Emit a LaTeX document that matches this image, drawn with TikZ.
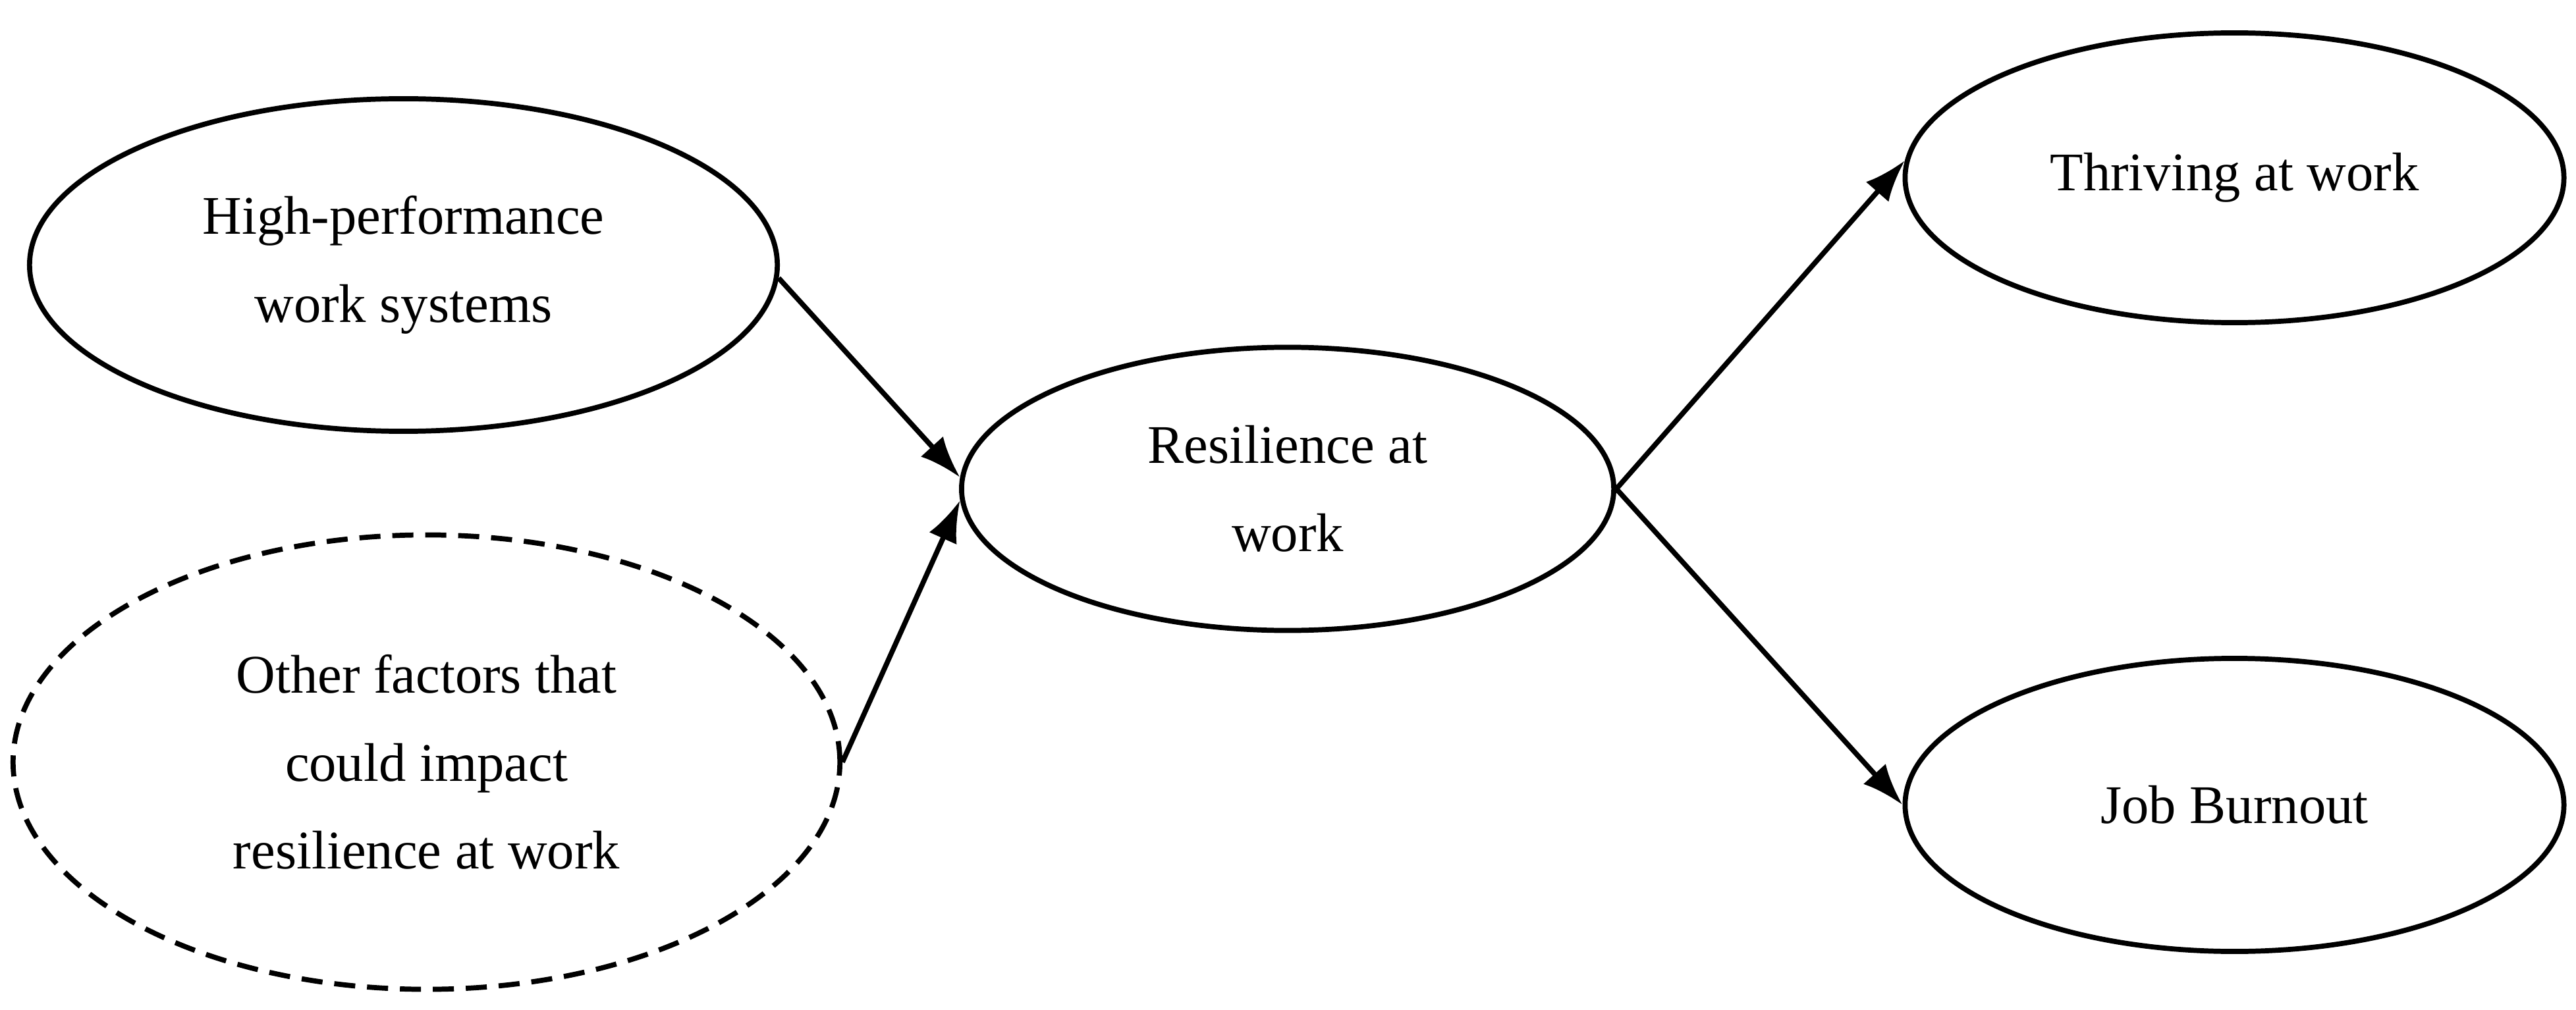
\documentclass[tikz,border=0pt]{standalone}
\usepackage{fontspec}
\setmainfont{Liberation Serif}
\usetikzlibrary{shapes.geometric,arrows.meta}
\begin{document}
\begin{tikzpicture}[x=0.025cm,y=-0.025cm,
  ell/.style={draw,ellipse,line width=2.2pt,inner sep=0pt,align=center,font=\fontsize{23.5pt}{38pt}\selectfont},
  arr/.style={line width=2.2pt,-{Latex[length=18pt,width=13pt]}}]
\useasboundingbox (0,0) rectangle (1564.4,613.6);
\node[ell,minimum width=11.35cm,minimum height=5.05cm] (hp) at (245,161) {High-performance\\work systems};
\node[ell,dash pattern=on 0.32cm off 0.18cm,minimum width=12.55cm,minimum height=6.9cm] (oth) at (259,463) {Other factors that\\could impact\\resilience at work};
\node[ell,minimum width=9.9cm,minimum height=4.3cm] (res) at (782,297) {Resilience at\\work};
\node[ell,minimum width=10cm,minimum height=4.4cm] (thr) at (1357,108) {Thriving at work};
\node[ell,minimum width=10cm,minimum height=4.45cm] (job) at (1357,489) {Job Burnout};
\draw[arr] (hp.-2) -- (res.178);
\draw[arr] (oth.0) -- (res.182);
\draw[arr] (res.east) -- (thr.177);
\draw[arr] (res.east) -- (job.180);
\end{tikzpicture}
\end{document}
